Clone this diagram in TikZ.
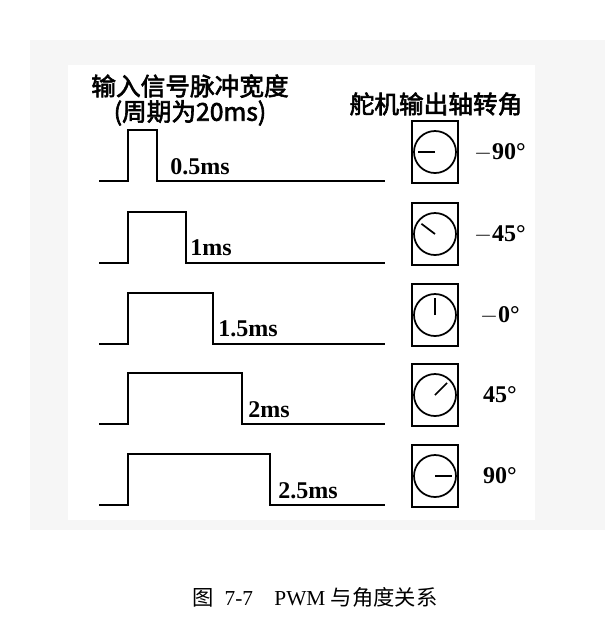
\documentclass[tikz,border=0pt]{standalone}
\usepackage{fontspec}
\setmainfont{Liberation Serif}
\newfontfamily\cjk[FakeBold=2.5]{Noto Sans CJK SC}
\newfontfamily\cjkn{Noto Sans CJK SC}
\begin{document}
\begin{tikzpicture}[x=0.75pt,y=-0.75pt,
  sig/.style={line width=1.6pt,line join=miter},
  lab/.style={font=\fontsize{18}{18}\selectfont\bfseries,inner sep=0pt,anchor=base west},
  ang/.style={font=\fontsize{18}{18}\selectfont\bfseries,inner sep=0pt},
  box/.style={draw,line width=1.5pt,minimum width=34pt,minimum height=47pt,inner sep=0pt},
  ttl/.style={font=\fontsize{18.5}{19}\selectfont\cjk,inner sep=0pt,align=center}]
\useasboundingbox (0,0) rectangle (605,637);
\fill[gray!7] (30,40) rectangle (605,530);
\fill[white] (68,65) rectangle (535,520);
\node[ttl] (t1) at (190,100) {输入信号脉冲宽度\\(周期为20ms)};
\node[ttl] (t2) at (436,104) {舵机输出轴转角};
\foreach \i/\yb/\xf/\lx/\ly/\txt/\a/\al in {
  1/181/157/170/174/0.5ms/-90/$-$90°,
  2/263/186/190/255/1ms/-53/$-$45°,
  3/344/213/218/336/1.5ms/0/$-$0°,
  4/424/242/248/417/2ms/45/45°,
  5/505/270/278/498/2.5ms/90/90°}{
  \draw[sig] (99,\yb) -- (128,\yb) -- (128,\yb-51) -- (\xf,\yb-51) -- (\xf,\yb) -- (385,\yb);
  \node[lab] (l\i) at (\lx,\ly) {\txt};
  \node[box] (b\i) at (435,\yb-29) {};
  \draw[line width=1.3pt] (b\i.center) circle (21);
  \draw[line width=1.3pt] (b\i.center) -- ++({\a-90}:17);
  \node[ang] (a\i) at (500,\yb-29) {\al};
}
\node[font=\fontsize{16}{16}\selectfont,inner sep=0pt] (cap) at (315,597) {{\cjkn 图}\ \ 7-7\quad PWM {\cjkn 与角度关系}};
\end{tikzpicture}
\end{document}
